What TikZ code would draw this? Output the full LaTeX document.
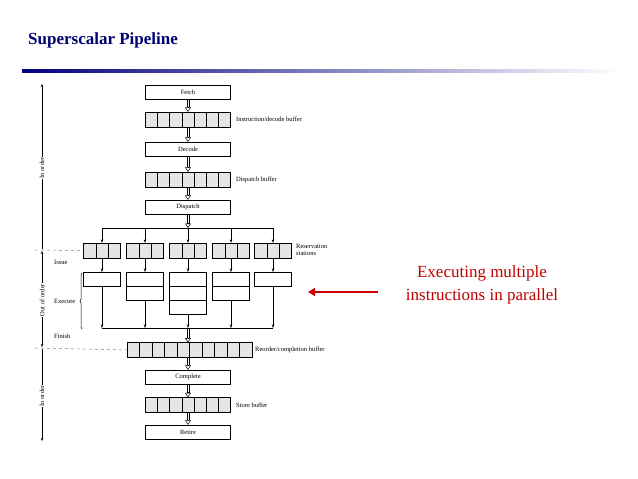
\documentclass[tikz,border=0pt]{standalone}
\usepackage{fontspec}
\setmainfont{Liberation Serif}
\usetikzlibrary{arrows.meta,decorations.pathreplacing,calc}
\newcommand\myoarrow[2]{%
  \draw[line width=0.5pt] ($(#1)+(-1.1,0)$) -- ($(#2)+(-1.1,-4.5)$);
  \draw[line width=0.5pt] ($(#1)+(1.1,0)$) -- ($(#2)+(1.1,-4.5)$);
  \draw[line width=0.5pt,-{Triangle[open,length=4.5pt,width=6pt]}] ($(#2)+(0,-5)$) -- (#2);}
\begin{document}
\begin{tikzpicture}[x=1pt,y=-1pt,
  box/.style={draw,fill=white,minimum width=85pt,minimum height=14pt,inner sep=0pt,font=\fontsize{6.5}{7}\selectfont},
  buf/.style={draw,fill=gray!20,minimum height=15pt,inner sep=0pt},
  lbl/.style={font=\fontsize{6.5}{7.5}\selectfont,anchor=west,inner sep=0pt,align=left},
  sarr/.style={-{Stealth[length=3.5pt,width=2.5pt]},line width=0.5pt},
  ln/.style={line width=0.5pt}]
\useasboundingbox (0,0) rectangle (638,479);
\node[anchor=west,text=blue!45!black,font=\fontsize{17}{20}\selectfont\bfseries,inner sep=0pt] (title) at (28,40) {Superscalar Pipeline};
\shade[left color=blue!50!black,right color=white] (22,69) rectangle (620,72);
% central column
\node[box] (fetch) at (188,92) {Fetch};
\node[buf,minimum width=85pt] (b1) at (188,119.5) {};
\node[box] (decode) at (188,149) {Decode};
\node[buf,minimum width=85pt] (b2) at (188,179.5) {};
\node[box] (dispatch) at (188,207) {Dispatch};
\foreach \b in {b1,b2}{\foreach \i in {1,...,6}{\draw[ln] ($(\b.north west)!\i/7!(\b.north east)$) -- ($(\b.south west)!\i/7!(\b.south east)$);}}
\node[lbl] (lb1) at (236,119.5) {Instruction/decode buffer};
\node[lbl] (lb2) at (236,179.5) {Dispatch buffer};
\myoarrow{fetch.south}{b1.north}
\myoarrow{b1.south}{decode.north}
\myoarrow{decode.south}{b2.north}
\myoarrow{b2.south}{dispatch.north}
\coordinate (bus1) at (188,228);
\myoarrow{dispatch.south}{bus1}
\coordinate (busL) at (102,228); \coordinate (busR) at (273,228);
\draw[ln] (busL) -- (busR);
% reservation stations and units
\foreach \n/\x/\r in {1/102/1,2/145/2,3/188/3,4/231/2,5/273/1}{
  \node[buf,minimum width=37pt] (rs\n) at (\x,250.5) {};
  \draw[ln] ($(rs\n.north west)!1/3!(rs\n.north east)$) -- ($(rs\n.south west)!1/3!(rs\n.south east)$);
  \draw[ln] ($(rs\n.north west)!2/3!(rs\n.north east)$) -- ($(rs\n.south west)!2/3!(rs\n.south east)$);
  \coordinate (t\n) at (\x,228);
  \draw[sarr] (t\n) -- (rs\n);
  \node[draw,fill=white,minimum width=37pt,minimum height=14*\r pt,inner sep=0pt,anchor=north] (eu\n) at (\x,272) {};
  \foreach \k in {2,...,\r}{\ifnum\k>1 \draw[ln] ($(eu\n.north west)+(0,14*\k-14)$) -- ($(eu\n.north east)+(0,14*\k-14)$);\fi}
  \draw[sarr] (rs\n) -- (eu\n);
  \coordinate (f\n) at (\x,328);
  \draw[sarr] (eu\n) -- (f\n);
}
\draw[ln] (f1) -- (f5);
\node[buf,minimum width=125pt] (rob) at (189.5,350) {};
\foreach \i in {1,...,9}{\draw[ln] ($(rob.north west)!\i/10!(rob.north east)$) -- ($(rob.south west)!\i/10!(rob.south east)$);}
\node[lbl] (lrob) at (255,350) {Reorder/completion buffer};
\coordinate (robin) at (188,342.5);
\myoarrow{f3}{robin}
\node[box] (complete) at (188,377) {Complete};
\node[buf,minimum width=85pt] (b3) at (188,405) {};
\foreach \i in {1,...,6}{\draw[ln] ($(b3.north west)!\i/7!(b3.north east)$) -- ($(b3.south west)!\i/7!(b3.south east)$);}
\node[lbl] (lb3) at (236,405) {Store buffer};
\node[box] (retire) at (188,432) {Retire};
\coordinate (robout) at (188,357.5);
\myoarrow{robout}{complete.north}
\myoarrow{complete.south}{b3.north}
\myoarrow{b3.south}{retire.north}
\node[lbl] (lrs) at (296,250) {Reservation\\stations};
% left side annotations
\coordinate (a0) at (42,84); \coordinate (a1) at (42,249); \coordinate (a2) at (42,251);
\coordinate (a3) at (42,347); \coordinate (a4) at (42,349); \coordinate (a5) at (42,441);
\draw[ln,-{Stealth[length=3pt,width=2.5pt]}] (a1) -- (a0);
\draw[ln,{Stealth[length=3pt,width=2.5pt]}-{Stealth[length=3pt,width=2.5pt]}] (a2) -- (a3);
\draw[ln,-{Stealth[length=3pt,width=2.5pt]}] (a4) -- (a5);
\node[rotate=90,fill=white,inner sep=1pt,font=\fontsize{6.5}{7}\selectfont] (io1) at (42,168) {In order};
\node[rotate=90,fill=white,inner sep=1pt,font=\fontsize{6.5}{7}\selectfont] (oo) at (42,300) {Out of order};
\node[rotate=90,fill=white,inner sep=1pt,font=\fontsize{6.5}{7}\selectfont] (io2) at (42,396) {In order};
\draw[ln,dashed,gray] (35,250) -- (rs1.west);
\draw[ln,dashed,gray] (35,348) -- (rob.west);
\node[lbl] (issue) at (54,262) {Issue};
\node[lbl] (exec) at (54,301) {Execute};
\node[lbl] (fin) at (54,336) {Finish};
\draw[ln,decorate,decoration={brace,amplitude=2pt}] (82,329) -- (82,273);
% red annotation
\node[text=red!75!black,font=\fontsize{17}{23}\selectfont,align=center] (note) at (482,285) {Executing multiple\\instructions in parallel};
\coordinate (ra) at (378,292); \coordinate (rb) at (308,292);
\draw[red!80!black,line width=2.2pt,-{Triangle[length=7pt,width=8pt]}] (ra) -- (rb);
\end{tikzpicture}
\end{document}
